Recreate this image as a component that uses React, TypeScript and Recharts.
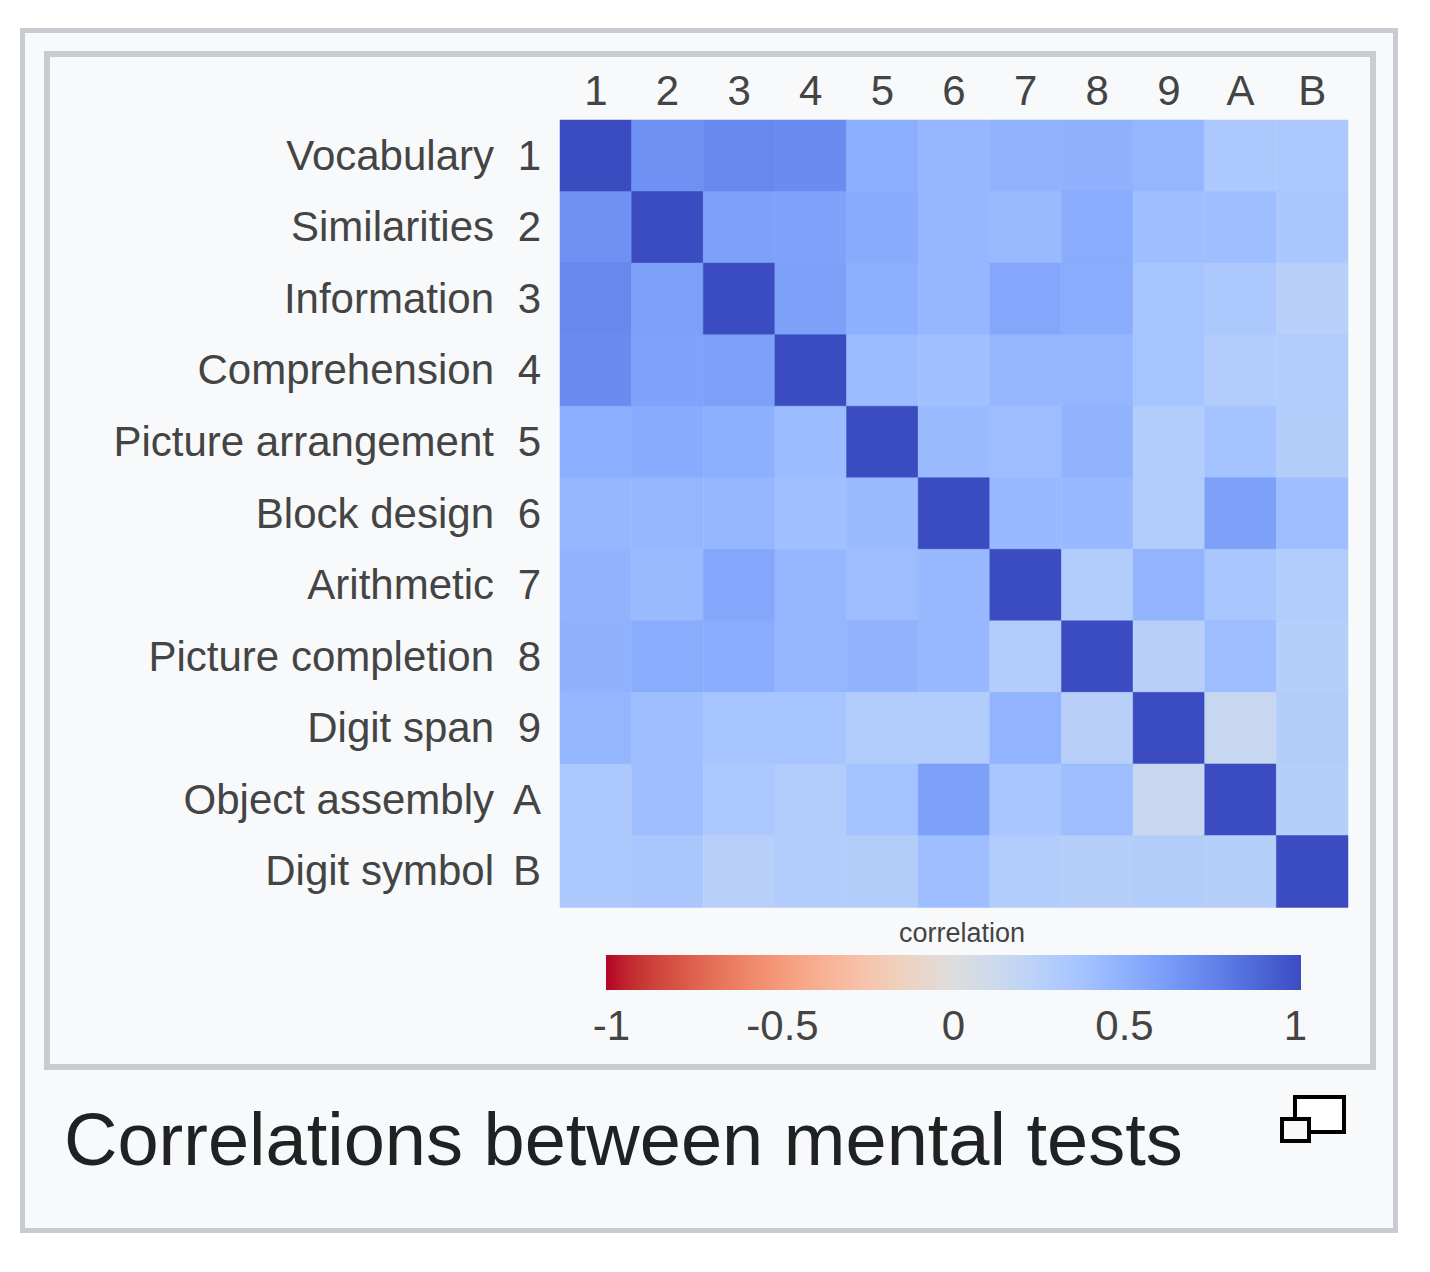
import { BarChart, Bar, Cell, XAxis, YAxis } from "recharts";

const testNames = [
  "Vocabulary",
  "Similarities",
  "Information",
  "Comprehension",
  "Picture arrangement",
  "Block design",
  "Arithmetic",
  "Picture completion",
  "Digit span",
  "Object assembly",
  "Digit symbol",
];
const testCodes = ["1", "2", "3", "4", "5", "6", "7", "8", "9", "A", "B"];

// rows/cols in the order of testNames
const correlations = [
  [1, 0.67, 0.72, 0.7, 0.51, 0.45, 0.48, 0.49, 0.46, 0.32, 0.32],
  [0.67, 1, 0.59, 0.58, 0.53, 0.46, 0.43, 0.52, 0.4, 0.4, 0.33],
  [0.72, 0.59, 1, 0.59, 0.5, 0.45, 0.55, 0.52, 0.36, 0.32, 0.25],
  [0.7, 0.58, 0.59, 1, 0.42, 0.39, 0.45, 0.46, 0.36, 0.29, 0.29],
  [0.51, 0.53, 0.5, 0.42, 1, 0.43, 0.41, 0.48, 0.29, 0.37, 0.28],
  [0.45, 0.46, 0.45, 0.39, 0.43, 1, 0.44, 0.44, 0.29, 0.59, 0.4],
  [0.48, 0.43, 0.55, 0.45, 0.41, 0.44, 1, 0.29, 0.47, 0.34, 0.29],
  [0.49, 0.52, 0.52, 0.46, 0.48, 0.44, 0.29, 1, 0.25, 0.41, 0.27],
  [0.46, 0.4, 0.36, 0.36, 0.29, 0.29, 0.47, 0.25, 1, 0.15, 0.28],
  [0.32, 0.4, 0.32, 0.29, 0.37, 0.59, 0.34, 0.41, 0.15, 1, 0.26],
  [0.32, 0.33, 0.25, 0.29, 0.28, 0.4, 0.29, 0.27, 0.28, 0.26, 1],
];

const colorbarTicks = [-1, -0.5, 0, 0.5, 1];
const colorbarSpan: [number, number] = [-1.016, 1.016];

// matplotlib coolwarm, blue end first
const coolwarm = [
  [59, 76, 192], [68, 90, 204], [77, 104, 215], [87, 117, 225],
  [98, 130, 234], [108, 142, 241], [119, 154, 247], [130, 165, 251],
  [141, 176, 254], [152, 185, 255], [163, 194, 255], [174, 201, 253],
  [184, 208, 249], [194, 213, 244], [203, 217, 237], [212, 219, 229],
  [221, 221, 221], [229, 216, 209], [236, 211, 197], [241, 204, 183],
  [245, 196, 173], [247, 187, 160], [247, 177, 148], [247, 166, 135],
  [244, 154, 123], [241, 141, 111], [236, 127, 99], [229, 112, 88],
  [222, 96, 77], [213, 80, 66], [203, 62, 56], [192, 40, 47],
  [180, 4, 38],
];

function corrColor(r: number) {
  const p = ((1 - r) / 2) * (coolwarm.length - 1);
  const i = Math.min(Math.floor(p), coolwarm.length - 2);
  const f = p - i;
  const c = coolwarm[i].map((v, k) => Math.round(v + (coolwarm[i + 1][k] - v) * f));
  return `rgb(${c.join(",")})`;
}

const font = '"Liberation Sans", Arial, sans-serif';
const labelColor = "#444";

const rows = testCodes.map((code) => {
  const row: Record<string, string | number> = { code };
  testCodes.forEach((_, j) => (row[`c${j}`] = 1));
  return row;
});

function RowTick(props: any) {
  const { y, payload } = props;
  const idx = testCodes.indexOf(payload.value);
  return (
    <g fontFamily={font} fontSize={42} fill={labelColor}>
      <text x={494} y={y} dy={14} textAnchor="end">
        {testNames[idx]}
      </text>
      <text x={541} y={y} dy={14} textAnchor="end">
        {payload.value}
      </text>
    </g>
  );
}

function ColTick(props: any) {
  const { x, payload } = props;
  return (
    <text x={x} y={105} textAnchor="middle" fontFamily={font} fontSize={42} fill={labelColor}>
      {testCodes[Math.floor(payload.value)]}
    </text>
  );
}

function BarTick(props: any) {
  const { x, payload } = props;
  return (
    <text x={x} y={1040} textAnchor="middle" fontFamily={font} fontSize={42} fill={labelColor}>
      {String(payload.value)}
    </text>
  );
}

export default function App() {
  return (
    <div
      style={{
        position: "absolute",
        left: 0,
        top: 0,
        width: 1430,
        height: 1272,
        background: "#fff",
        overflow: "hidden",
      }}
    >
      <div
        style={{
          position: "absolute",
          left: 20,
          top: 28,
          width: 1368,
          height: 1195,
          border: "5px solid #c8ccd1",
          background: "#f8f9fa",
        }}
      />
      <div
        style={{
          position: "absolute",
          left: 44,
          top: 51,
          width: 1320,
          height: 1007,
          border: "6px solid #c8ccd1",
          background: "#f8f9fa",
        }}
      />

      <div style={{ position: "absolute", left: 0, top: 0 }}>
        <BarChart
          width={1430}
          height={920}
          data={rows}
          layout="vertical"
          barCategoryGap={0}
          margin={{ top: 60, right: 82, bottom: 13, left: 0 }}
        >
          <XAxis
            type="number"
            orientation="top"
            domain={[0, testCodes.length]}
            ticks={testCodes.map((_, i) => i + 0.5)}
            height={60}
            axisLine={false}
            tickLine={false}
            tick={<ColTick />}
          />
          <YAxis
            type="category"
            dataKey="code"
            width={560}
            axisLine={false}
            tickLine={false}
            interval={0}
            tick={<RowTick />}
          />
          {testCodes.map((_, j) => (
            <Bar key={j} dataKey={`c${j}`} stackId="cells" isAnimationActive={false}>
              {correlations.map((row, i) => {
                const fill = corrColor(row[j]);
                return <Cell key={i} fill={fill} stroke={fill} strokeWidth={0.5} />;
              })}
            </Bar>
          ))}
        </BarChart>
      </div>

      <div style={{ position: "absolute", left: 0, top: 0 }}>
        <BarChart
          width={1430}
          height={1060}
          data={[{ name: "correlation", span: colorbarSpan }]}
          layout="vertical"
          barCategoryGap={0}
          margin={{ top: 955, right: 129, bottom: 20, left: 606 }}
        >
          <defs>
            <linearGradient id="coolwarmBar" x1="0" y1="0" x2="1" y2="0">
              {coolwarm.map((_, k) => (
                <stop
                  key={k}
                  offset={k / (coolwarm.length - 1)}
                  stopColor={`rgb(${coolwarm[coolwarm.length - 1 - k].join(",")})`}
                />
              ))}
            </linearGradient>
          </defs>
          <XAxis
            type="number"
            domain={colorbarSpan}
            ticks={colorbarTicks}
            height={50}
            axisLine={false}
            tickLine={false}
            tick={<BarTick />}
          />
          <YAxis type="category" dataKey="name" hide />
          <Bar dataKey="span" fill="url(#coolwarmBar)" isAnimationActive={false} />
        </BarChart>
      </div>

      <svg
        width={1430}
        height={1272}
        style={{ position: "absolute", left: 0, top: 0, pointerEvents: "none" }}
      >
        <text x={962} y={942} textAnchor="middle" fontFamily={font} fontSize={27} fill={labelColor}>
          correlation
        </text>
        <text x={64} y={1165} fontFamily={font} fontSize={74} fill="#202122">
          Correlations between mental tests
        </text>
        <rect x={1295} y={1097} width={49} height={35} fill="#fff" stroke="#000" strokeWidth={4} />
        <rect x={1282} y={1119} width={27} height={22} fill="#f8f9fa" stroke="#000" strokeWidth={4} />
      </svg>
    </div>
  );
}
